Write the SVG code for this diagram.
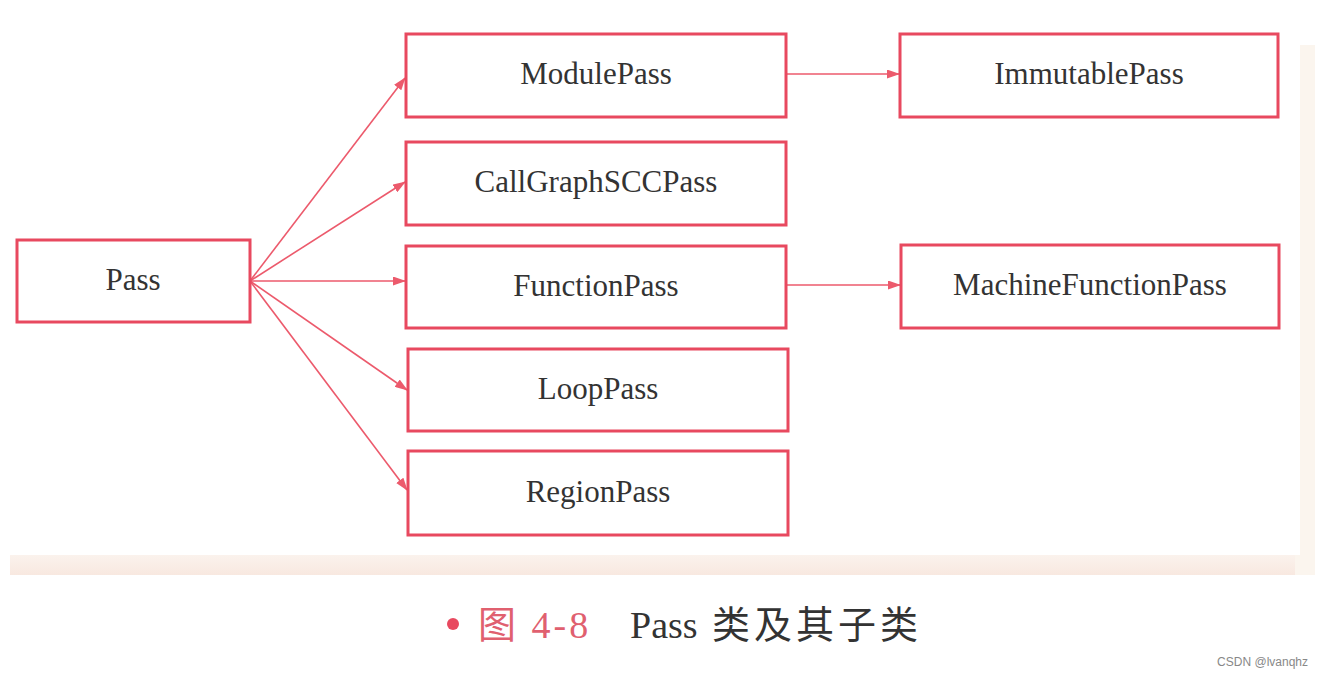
<svg xmlns="http://www.w3.org/2000/svg" width="1322" height="678" viewBox="0 0 1322 678">
<style>
.box{fill:#fff;stroke:#e8495f;stroke-width:3}
.lbl{font-family:"Liberation Serif",serif;font-size:31px;fill:#333;text-anchor:middle}
.con{stroke:#ec5a6c;stroke-width:1.6;fill:none;marker-end:url(#ah)}
</style>
<defs>
<marker id="ah" markerWidth="13" markerHeight="9" refX="12" refY="4.5" orient="auto" markerUnits="userSpaceOnUse"><path d="M0,0 L13,4.5 L0,9 Z" fill="#ec5a6c"/></marker>
<linearGradient id="sh" x1="0" y1="0" x2="0" y2="1"><stop offset="0" stop-color="#fbf3ee"/><stop offset="1" stop-color="#f8e8e0"/></linearGradient>
</defs>
<rect width="1322" height="678" fill="#fff"/>
<rect x="10" y="553" width="1305" height="22" fill="url(#sh)"/>
<rect x="1295" y="45" width="20" height="530" fill="#fbf5ee"/>
<rect x="10" y="20" width="1290" height="535" fill="#fff"/>
<g id="connectors">
<line class="con" x1="250" y1="281" x2="405" y2="78"/>
<line class="con" x1="250" y1="281" x2="405" y2="182"/>
<line class="con" x1="250" y1="281" x2="405" y2="281"/>
<line class="con" x1="250" y1="281" x2="407" y2="390"/>
<line class="con" x1="250" y1="281" x2="407" y2="490"/>
<line class="con" x1="786" y1="74" x2="899" y2="74"/>
<line class="con" x1="786" y1="285" x2="900" y2="285"/>
</g>
<g id="pass"><rect class="box" x="17" y="240" width="233" height="82"/><text class="lbl" x="133" y="290">Pass</text></g>
<g id="modulepass"><rect class="box" x="406" y="34" width="380" height="83"/><text class="lbl" x="596" y="84">ModulePass</text></g>
<g id="callgraphsccpass"><rect class="box" x="406" y="142" width="380" height="83"/><text class="lbl" x="596" y="192">CallGraphSCCPass</text></g>
<g id="functionpass"><rect class="box" x="406" y="246" width="380" height="82"/><text class="lbl" x="596" y="296">FunctionPass</text></g>
<g id="looppass"><rect class="box" x="408" y="349" width="380" height="82"/><text class="lbl" x="598" y="399">LoopPass</text></g>
<g id="regionpass"><rect class="box" x="408" y="451" width="380" height="84"/><text class="lbl" x="598" y="502">RegionPass</text></g>
<g id="immutablepass"><rect class="box" x="900" y="34" width="378" height="83"/><text class="lbl" x="1089" y="84">ImmutablePass</text></g>
<g id="machinefunctionpass"><rect class="box" x="901" y="245" width="378" height="83"/><text class="lbl" x="1090" y="295">MachineFunctionPass</text></g>
<circle cx="453" cy="624" r="6" fill="#e8495f"/>
<text x="478" y="638" font-family="'Liberation Serif','Noto Sans CJK SC',serif" font-size="38" fill="#e0606f" letter-spacing="3">图 4-8</text>
<text x="630" y="638" font-family="'Liberation Serif','Noto Sans CJK SC',serif" font-size="38" fill="#333">Pass</text>
<text x="712" y="638" font-family="'Noto Sans CJK SC',serif" font-size="38" fill="#333" letter-spacing="4">类及其子类</text>
<text x="1308" y="666" font-family="'Liberation Sans',sans-serif" font-size="12" fill="#888" text-anchor="end">CSDN @lvanqhz</text>
</svg>
